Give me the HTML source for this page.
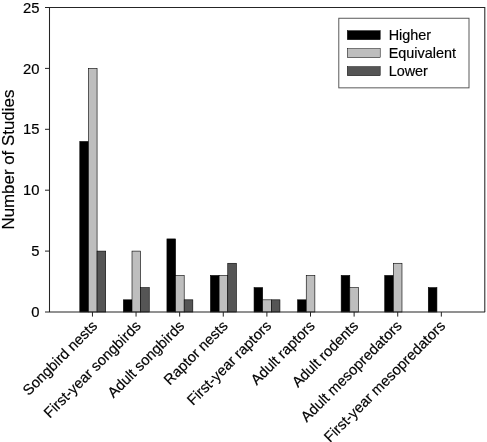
<!DOCTYPE html><html><head><meta charset="utf-8"><title>Number of Studies</title><style>html,body{margin:0;padding:0;background:#fff}svg{display:block}text{font-family:"Liberation Sans",Arial,sans-serif;fill:#000;stroke:#000;stroke-width:0.18px}</style></head><body>
<svg width="487" height="442" viewBox="0 0 487 442">
<rect width="487" height="442" fill="#fff"/>
<rect x="79.81" y="141.48" width="8.63" height="170.52" fill="#000000" stroke="#000" stroke-width="0.6"/>
<rect x="88.44" y="68.40" width="8.63" height="243.60" fill="#bebebe" stroke="#000" stroke-width="0.6"/>
<rect x="97.07" y="251.10" width="8.63" height="60.90" fill="#555555" stroke="#000" stroke-width="0.6"/>
<rect x="123.37" y="299.82" width="8.63" height="12.18" fill="#000000" stroke="#000" stroke-width="0.6"/>
<rect x="132.00" y="251.10" width="8.63" height="60.90" fill="#bebebe" stroke="#000" stroke-width="0.6"/>
<rect x="140.62" y="287.64" width="8.63" height="24.36" fill="#555555" stroke="#000" stroke-width="0.6"/>
<rect x="166.93" y="238.92" width="8.63" height="73.08" fill="#000000" stroke="#000" stroke-width="0.6"/>
<rect x="175.56" y="275.46" width="8.63" height="36.54" fill="#bebebe" stroke="#000" stroke-width="0.6"/>
<rect x="184.19" y="299.82" width="8.63" height="12.18" fill="#555555" stroke="#000" stroke-width="0.6"/>
<rect x="210.49" y="275.46" width="8.63" height="36.54" fill="#000000" stroke="#000" stroke-width="0.6"/>
<rect x="219.12" y="275.46" width="8.63" height="36.54" fill="#bebebe" stroke="#000" stroke-width="0.6"/>
<rect x="227.75" y="263.28" width="8.63" height="48.72" fill="#555555" stroke="#000" stroke-width="0.6"/>
<rect x="254.05" y="287.64" width="8.63" height="24.36" fill="#000000" stroke="#000" stroke-width="0.6"/>
<rect x="262.68" y="299.82" width="8.63" height="12.18" fill="#bebebe" stroke="#000" stroke-width="0.6"/>
<rect x="271.31" y="299.82" width="8.63" height="12.18" fill="#555555" stroke="#000" stroke-width="0.6"/>
<rect x="297.61" y="299.82" width="8.63" height="12.18" fill="#000000" stroke="#000" stroke-width="0.6"/>
<rect x="306.24" y="275.46" width="8.63" height="36.54" fill="#bebebe" stroke="#000" stroke-width="0.6"/>
<rect x="341.17" y="275.46" width="8.63" height="36.54" fill="#000000" stroke="#000" stroke-width="0.6"/>
<rect x="349.80" y="287.64" width="8.63" height="24.36" fill="#bebebe" stroke="#000" stroke-width="0.6"/>
<rect x="384.73" y="275.46" width="8.63" height="36.54" fill="#000000" stroke="#000" stroke-width="0.6"/>
<rect x="393.36" y="263.28" width="8.63" height="48.72" fill="#bebebe" stroke="#000" stroke-width="0.6"/>
<rect x="428.29" y="287.64" width="8.63" height="24.36" fill="#000000" stroke="#000" stroke-width="0.6"/>
<path d="M49.5 312.0V7.5H484.8V312.0" fill="none" stroke="#252525" stroke-width="1.05" stroke-linejoin="miter"/>
<line x1="45.0" x2="485.1" y1="312.0" y2="312.0" stroke="#252525" stroke-width="1.2"/>
<text x="39.4" y="317.10" font-size="14.8" text-anchor="end">0</text>
<line x1="45.0" x2="49.5" y1="251.10" y2="251.10" stroke="#222" stroke-width="1"/>
<text x="39.4" y="256.20" font-size="14.8" text-anchor="end">5</text>
<line x1="45.0" x2="49.5" y1="190.20" y2="190.20" stroke="#222" stroke-width="1"/>
<text x="39.4" y="195.30" font-size="14.8" text-anchor="end">10</text>
<line x1="45.0" x2="49.5" y1="129.30" y2="129.30" stroke="#222" stroke-width="1"/>
<text x="39.4" y="134.40" font-size="14.8" text-anchor="end">15</text>
<line x1="45.0" x2="49.5" y1="68.40" y2="68.40" stroke="#222" stroke-width="1"/>
<text x="39.4" y="73.50" font-size="14.8" text-anchor="end">20</text>
<line x1="45.0" x2="49.5" y1="7.50" y2="7.50" stroke="#222" stroke-width="1"/>
<text x="39.4" y="12.60" font-size="14.8" text-anchor="end">25</text>
<line x1="92.45" x2="92.45" y1="312.0" y2="316.6" stroke="#222" stroke-width="1"/>
<text transform="translate(98.10,326.90) rotate(-45)" font-size="14.7" text-anchor="end">Songbird nests</text>
<line x1="136.06" x2="136.06" y1="312.0" y2="316.6" stroke="#222" stroke-width="1"/>
<text transform="translate(141.60,326.90) rotate(-45)" font-size="14.7" text-anchor="end">First-year songbirds</text>
<line x1="179.67" x2="179.67" y1="312.0" y2="316.6" stroke="#222" stroke-width="1"/>
<text transform="translate(185.10,326.90) rotate(-45)" font-size="14.7" text-anchor="end">Adult songbirds</text>
<line x1="223.28" x2="223.28" y1="312.0" y2="316.6" stroke="#222" stroke-width="1"/>
<text transform="translate(228.60,326.90) rotate(-45)" font-size="14.7" text-anchor="end">Raptor nests</text>
<line x1="266.89" x2="266.89" y1="312.0" y2="316.6" stroke="#222" stroke-width="1"/>
<text transform="translate(272.10,326.90) rotate(-45)" font-size="14.7" text-anchor="end">First-year raptors</text>
<line x1="310.50" x2="310.50" y1="312.0" y2="316.6" stroke="#222" stroke-width="1"/>
<text transform="translate(315.60,326.90) rotate(-45)" font-size="14.7" text-anchor="end">Adult raptors</text>
<line x1="354.11" x2="354.11" y1="312.0" y2="316.6" stroke="#222" stroke-width="1"/>
<text transform="translate(359.10,326.90) rotate(-45)" font-size="14.7" text-anchor="end">Adult rodents</text>
<line x1="397.72" x2="397.72" y1="312.0" y2="316.6" stroke="#222" stroke-width="1"/>
<text transform="translate(402.60,326.90) rotate(-45)" font-size="14.7" text-anchor="end">Adult mesopredators</text>
<line x1="441.33" x2="441.33" y1="312.0" y2="316.6" stroke="#222" stroke-width="1"/>
<text transform="translate(446.10,326.90) rotate(-45)" font-size="14.7" text-anchor="end">First-year mesopredators</text>
<text transform="translate(13.8,159.6) rotate(-90)" font-size="16.9" text-anchor="middle">Number of Studies</text>
<rect x="338.8" y="18.25" width="130.2" height="69.6" fill="#fff" stroke="#505050" stroke-width="0.95"/>
<rect x="347.3" y="30.7" width="32.9" height="9" fill="#000000" stroke="#000" stroke-width="0.5"/>
<text x="388.7" y="40.10" font-size="14.4">Higher</text>
<rect x="347.3" y="48.7" width="32.9" height="9" fill="#bebebe" stroke="#000" stroke-width="0.5"/>
<text x="388.7" y="58.10" font-size="14.4">Equivalent</text>
<rect x="347.3" y="66.7" width="32.9" height="9" fill="#555555" stroke="#000" stroke-width="0.5"/>
<text x="388.7" y="76.10" font-size="14.4">Lower</text>
</svg></body></html>
